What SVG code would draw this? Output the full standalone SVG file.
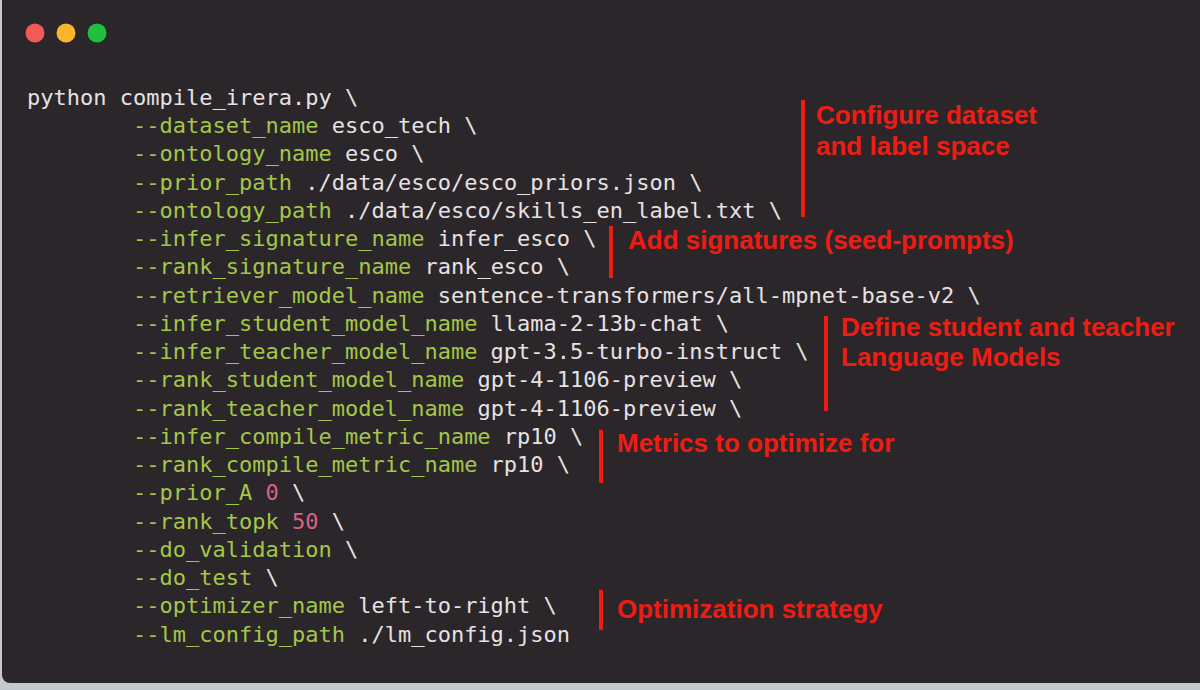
<svg xmlns="http://www.w3.org/2000/svg" width="1200" height="690" viewBox="0 0 1200 690">
<style>
.c{font-family:"DejaVu Sans Mono",monospace;font-size:22px;fill:#e6e1e3;white-space:pre}
.g{fill:#a3c74a}
.n{fill:#d9628a}
.a{font-family:"Liberation Sans",Arial,sans-serif;font-weight:bold;font-size:26px;fill:#ee1d14}
.b{stroke:#ee1d14;stroke-width:4}
</style>
<rect width="1200" height="690" fill="#c4c9d0"/>
<rect x="2" y="-10" width="1208" height="693" rx="8" fill="#2b2629"/>
<g id="lights">
<circle cx="35" cy="33" r="9.5" fill="#f25a55"/>
<circle cx="66" cy="33" r="9.5" fill="#fbb52c"/>
<circle cx="97" cy="33" r="9.5" fill="#1fbf3f"/>
</g>
<g id="code" class="c">
<text x="27" y="105">python compile_irera.py \</text>
<text x="133" y="133"><tspan class="g">--dataset_name</tspan> esco_tech \</text>
<text x="133" y="161"><tspan class="g">--ontology_name</tspan> esco \</text>
<text x="133" y="190"><tspan class="g">--prior_path</tspan> ./data/esco/esco_priors.json \</text>
<text x="133" y="218"><tspan class="g">--ontology_path</tspan> ./data/esco/skills_en_label.txt \</text>
<text x="133" y="246"><tspan class="g">--infer_signature_name</tspan> infer_esco \</text>
<text x="133" y="274"><tspan class="g">--rank_signature_name</tspan> rank_esco \</text>
<text x="133" y="303"><tspan class="g">--retriever_model_name</tspan> sentence-transformers/all-mpnet-base-v2 \</text>
<text x="133" y="331"><tspan class="g">--infer_student_model_name</tspan> llama-2-13b-chat \</text>
<text x="133" y="359"><tspan class="g">--infer_teacher_model_name</tspan> gpt-3.5-turbo-instruct \</text>
<text x="133" y="387"><tspan class="g">--rank_student_model_name</tspan> gpt-4-1106-preview \</text>
<text x="133" y="416"><tspan class="g">--rank_teacher_model_name</tspan> gpt-4-1106-preview \</text>
<text x="133" y="444"><tspan class="g">--infer_compile_metric_name</tspan> rp10 \</text>
<text x="133" y="472"><tspan class="g">--rank_compile_metric_name</tspan> rp10 \</text>
<text x="133" y="500"><tspan class="g">--prior_A</tspan> <tspan class="n">0</tspan> \</text>
<text x="133" y="529"><tspan class="g">--rank_topk</tspan> <tspan class="n">50</tspan> \</text>
<text x="133" y="557"><tspan class="g">--do_validation</tspan> \</text>
<text x="133" y="585"><tspan class="g">--do_test</tspan> \</text>
<text x="133" y="613"><tspan class="g">--optimizer_name</tspan> left-to-right \</text>
<text x="133" y="642"><tspan class="g">--lm_config_path</tspan> ./lm_config.json</text>
</g>
<g id="annotations">
<line class="b" x1="803" y1="100" x2="803" y2="217"/>
<text class="a" x="816" y="124">Configure dataset</text>
<text class="a" x="816" y="155">and label space</text>
<line class="b" x1="611" y1="226" x2="611" y2="278"/>
<text class="a" x="628" y="249">Add signatures (seed-prompts)</text>
<line class="b" x1="826" y1="316" x2="826" y2="411"/>
<text class="a" x="841" y="336">Define student and teacher</text>
<text class="a" x="841" y="366">Language Models</text>
<line class="b" x1="601" y1="430" x2="601" y2="483"/>
<text class="a" x="617" y="452">Metrics to optimize for</text>
<line class="b" x1="601" y1="590" x2="601" y2="630"/>
<text class="a" x="617" y="618">Optimization strategy</text>
</g>
</svg>
